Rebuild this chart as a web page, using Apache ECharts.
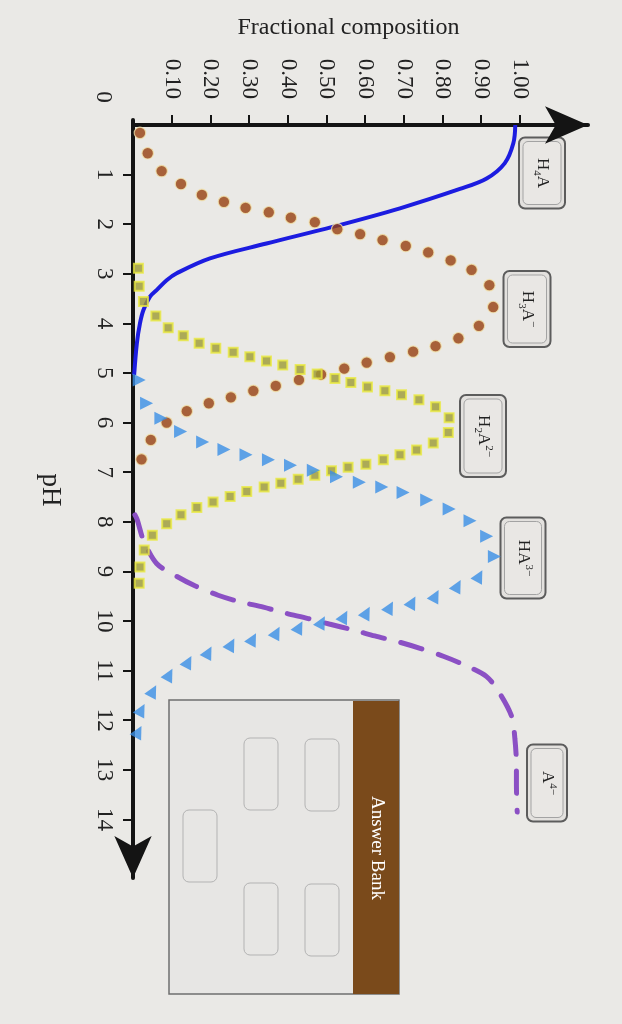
<!DOCTYPE html>
<html>
<head>
<meta charset="utf-8">
<script src="https://cdn.jsdelivr.net/npm/echarts@6/dist/echarts.min.js"></script>
<style>
  html, body { margin: 0; padding: 0; background: #eae9e6; }
  #chart { width: 622px; height: 1024px; }
</style>
</head>
<body>
<div id="chart"></div>
<script>
// ---- data (fraction, pH) ----
const phTicks = [1, 2, 3, 4, 5, 6, 7, 8, 9, 10, 11, 12, 13, 14];
const fracTicks = [0.1, 0.2, 0.3, 0.4, 0.5, 0.6, 0.7, 0.8, 0.9, 1.0];

const h4aCurve = [[0.988,0],[0.983,0.37],[0.961,0.77],[0.914,1.08],[0.845,1.29],[0.690,1.68],[0.518,2.05],[0.345,2.39],[0.199,2.69],[0.113,2.99],[0.087,3.13],[0.061,3.33],[0.044,3.46],[0.027,3.73],[0.018,4.00],[0.010,4.40],[0.003,5.04]];

const h3aDots = [[0.018,0.16],[0.038,0.57],[0.074,0.93],[0.124,1.19],[0.178,1.41],[0.235,1.55],[0.291,1.67],[0.351,1.76],[0.408,1.87],[0.470,1.96],[0.528,2.10],[0.587,2.20],[0.645,2.32],[0.705,2.44],[0.763,2.57],[0.821,2.73],[0.875,2.92],[0.921,3.23],[0.931,3.67],[0.894,4.05],[0.841,4.30],[0.782,4.46],[0.724,4.57],[0.664,4.68],[0.604,4.79],[0.546,4.91],[0.486,5.03],[0.429,5.14],[0.369,5.26],[0.311,5.36],[0.253,5.49],[0.196,5.61],[0.139,5.77],[0.087,6.00],[0.046,6.35],[0.022,6.74]];

const h2aDots = [[0.014,2.89],[0.016,3.25],[0.027,3.56],[0.059,3.85],[0.091,4.09],[0.130,4.25],[0.171,4.40],[0.214,4.50],[0.259,4.58],[0.302,4.67],[0.345,4.76],[0.387,4.84],[0.432,4.93],[0.476,5.02],[0.522,5.11],[0.563,5.19],[0.606,5.28],[0.651,5.36],[0.694,5.44],[0.739,5.54],[0.782,5.68],[0.817,5.90],[0.815,6.20],[0.776,6.41],[0.733,6.55],[0.690,6.65],[0.647,6.75],[0.602,6.84],[0.556,6.90],[0.513,6.97],[0.470,7.06],[0.427,7.14],[0.382,7.22],[0.339,7.30],[0.294,7.39],[0.251,7.49],[0.207,7.60],[0.165,7.71],[0.124,7.86],[0.087,8.04],[0.050,8.27],[0.029,8.57],[0.018,8.91],[0.016,9.24]];

const ha3Dots = [[0.016,5.14],[0.035,5.61],[0.072,5.91],[0.123,6.18],[0.180,6.39],[0.235,6.54],[0.292,6.65],[0.350,6.75],[0.407,6.86],[0.466,6.96],[0.526,7.09],[0.585,7.20],[0.643,7.30],[0.698,7.41],[0.759,7.56],[0.817,7.74],[0.871,7.98],[0.914,8.29],[0.934,8.70],[0.895,9.09],[0.839,9.29],[0.782,9.49],[0.722,9.62],[0.664,9.72],[0.604,9.83],[0.546,9.91],[0.488,10.02],[0.430,10.12],[0.371,10.23],[0.310,10.36],[0.254,10.47],[0.195,10.63],[0.143,10.82],[0.094,11.08],[0.052,11.41],[0.022,11.79],[0.014,12.23]];

const a4Curve = [[0.005,7.86],[0.011,7.96],[0.027,8.37],[0.061,8.84],[0.111,9.09],[0.160,9.29],[0.220,9.48],[0.275,9.61],[0.337,9.72],[0.388,9.83],[0.453,9.95],[0.507,10.06],[0.569,10.18],[0.625,10.30],[0.686,10.42],[0.742,10.55],[0.802,10.71],[0.858,10.89],[0.914,11.12],[0.948,11.46],[0.979,11.93],[0.987,12.37],[0.991,12.90],[0.991,13.31],[0.993,13.85]];

const speciesLabels = ['H4A', 'H3A-', 'H2A2-', 'HA3-', 'A4-'];
const speciesRich = ['{n|H}{s|4}{n|A}', '{n|H}{s|3}{n|A}{p|−}', '{n|H}{s|2}{n|A}{p|2−}', '{n|HA}{p|3−}', '{n|A}{p|4−}'];

// ---- chart ----
const SERIF = 'Liberation Serif, Times New Roman, serif';
const chart = echarts.init(document.getElementById('chart'));

function labelBox(cx, cy, w, h, txt) {
  return {
    type: 'group', x: cx, y: cy, rotation: -Math.PI / 2,
    children: [
      { type: 'rect', shape: { x: -h / 2, y: -w / 2, width: h, height: w, r: 6 },
        style: { fill: '#e3e1de', stroke: '#5c5c5c', lineWidth: 2 } },
      { type: 'rect', shape: { x: -h / 2 + 4, y: -w / 2 + 4, width: h - 8, height: w - 8, r: 5 },
        style: { fill: '#e9e7e4', stroke: '#a3a3a3', lineWidth: 1 } },
      { type: 'text', x: 0, y: 0,
        style: { text: txt, align: 'center', verticalAlign: 'middle', fill: '#222',
          rich: {
            n: { fontSize: 17, fontFamily: SERIF, fill: '#222', lineHeight: 22, verticalAlign: 'middle' },
            s: { fontSize: 11, fontFamily: SERIF, fill: '#222', verticalAlign: 'bottom', padding: [10, 0, 0, 0] },
            p: { fontSize: 11, fontFamily: SERIF, fill: '#222', verticalAlign: 'top', padding: [0, 0, 10, 0] }
          } } }
    ]
  };
}

function slot(x, y) {
  return { type: 'rect', shape: { x: x, y: y, width: 34, height: 72, r: 6 },
    style: { fill: 'none', stroke: '#b3b3b3', lineWidth: 1 } };
}

const option = {
  backgroundColor: '#eae9e6',
  animation: false,
  grid: { left: 133, top: 120, width: 455, height: 758, containLabel: false },
  xAxis: {
    type: 'value', position: 'top', min: 0, max: 1.176,
    name: 'Fractional composition', nameLocation: 'middle', nameGap: 80,
    nameTextStyle: { fontFamily: SERIF, fontSize: 24, color: '#222', padding: [0, 24, 0, 0] },
    axisLine: { show: true, symbol: ['none', 'arrow'], symbolSize: [28, 43],
      lineStyle: { color: '#141414', width: 4 } },
    axisTick: { show: true, customValues: fracTicks, length: 10, lineStyle: { color: '#141414', width: 2 } },
    axisLabel: { customValues: fracTicks, rotate: -90, margin: 21, fontFamily: SERIF, fontSize: 23, color: '#222',
      formatter: v => v.toFixed(2) },
    splitLine: { show: false }
  },
  yAxis: {
    type: 'value', inverse: true, min: -0.1, max: 15.18, position: 'left',
    name: 'pH', nameLocation: 'middle', nameGap: 69, nameRotate: -90,
    nameTextStyle: { fontFamily: SERIF, fontSize: 27, color: '#222', padding: [0, 18, 0, 0] },
    axisLine: { show: true, symbol: ['arrow', 'none'], symbolSize: [28, 42],
      lineStyle: { color: '#141414', width: 4 } },
    axisTick: { show: true, customValues: phTicks, length: 10, lineStyle: { color: '#141414', width: 2 } },
    axisLabel: { customValues: phTicks, rotate: -90, margin: 17, fontFamily: SERIF, fontSize: 23, color: '#222' },
    splitLine: { show: false }
  },
  series: [
    { name: speciesLabels[0], type: 'line', data: h4aCurve, smooth: 0.35, symbol: 'none',
      lineStyle: { color: '#1c1ce0', width: 4 }, z: 3 },
    { name: speciesLabels[1], type: 'scatter', data: h3aDots, symbol: 'circle', symbolSize: 11.5,
      itemStyle: { color: '#963f0f', borderColor: '#f3e3ae', borderWidth: 1.2 }, z: 4 },
    { name: speciesLabels[2], type: 'scatter', data: h2aDots, symbol: 'rect', symbolSize: 9,
      itemStyle: { color: '#9c9a33', borderColor: '#eaea40', borderWidth: 2 }, z: 4 },
    { name: speciesLabels[3], type: 'scatter', data: ha3Dots, symbol: 'triangle', symbolSize: 13,
      symbolRotate: v => (v[1] < 8.9 ? -90 : -28),
      itemStyle: { color: '#3a8fe6' }, z: 4 },
    { name: speciesLabels[4], type: 'line', data: a4Curve, smooth: 0.3, symbol: 'none',
      lineStyle: { color: '#8b50c4', width: 5, type: [22, 17], cap: 'round' }, z: 3 }
  ],
  graphic: [
    { type: 'group', x: 103, y: 97, rotation: -Math.PI / 2,
      children: [{ type: 'text', style: { text: '0', align: 'center', verticalAlign: 'middle',
        fontFamily: SERIF, fontSize: 23, fill: '#222' } }] },
    labelBox(542, 173, 46, 71, speciesRich[0]),
    labelBox(527, 309, 47, 76, speciesRich[1]),
    labelBox(483, 436, 46, 82, speciesRich[2]),
    labelBox(523, 558, 45, 81, speciesRich[3]),
    labelBox(547, 783, 40, 77, speciesRich[4]),
    { type: 'rect', shape: { x: 169, y: 700, width: 230, height: 294 },
      style: { fill: '#e7e6e4', stroke: '#6f6f6f', lineWidth: 1.5 } },
    { type: 'rect', shape: { x: 353, y: 701, width: 46, height: 293 },
      style: { fill: '#7a4a1b' } },
    { type: 'group', x: 377, y: 848, rotation: -Math.PI / 2,
      children: [{ type: 'text', style: { text: 'Answer Bank', align: 'center', verticalAlign: 'middle',
        fontFamily: SERIF, fontSize: 19, fill: '#ffffff' } }] },
    slot(244, 738), slot(305, 739), slot(183, 810), slot(244, 883), slot(305, 884)
  ]
};
chart.setOption(option);
</script>
</body>
</html>
